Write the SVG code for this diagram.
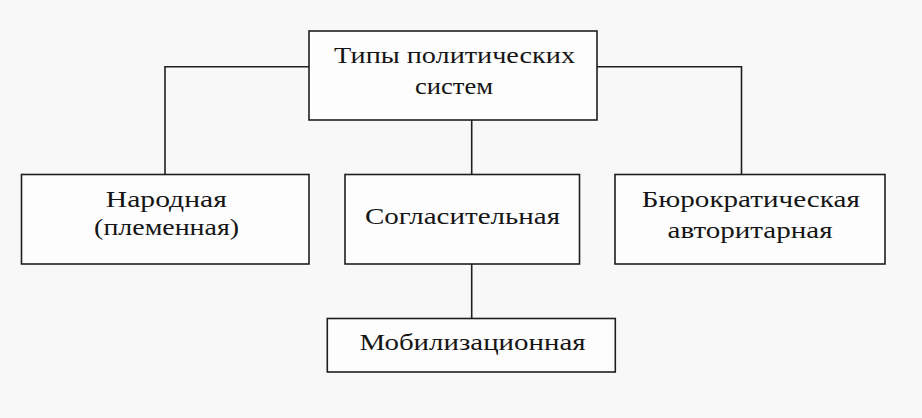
<svg xmlns="http://www.w3.org/2000/svg" width="922" height="418" viewBox="0 0 922 418">
<style>
.box{fill:#fdfdfd;stroke:#1e1e1e;stroke-width:1.6}
.conn{fill:none;stroke:#1e1e1e;stroke-width:1.6}
text{font-family:"Liberation Serif","Times New Roman",serif;font-size:24px;fill:#151515;text-anchor:middle}
</style>
<rect width="922" height="418" fill="#f8f8f8"/>
<g id="connectors">
<polyline class="conn" points="309,66.7 165,66.7 165,174.5"/>
<polyline class="conn" points="597,66.7 741.5,66.7 741.5,174.5"/>
<line class="conn" x1="471.7" y1="120" x2="471.7" y2="174.5"/>
<line class="conn" x1="471.7" y1="264" x2="471.7" y2="318.5"/>
</g>
<g id="node-types">
<rect class="box" x="309" y="31" width="288" height="89"/>
<text x="454.5" y="62.7" textLength="241" lengthAdjust="spacingAndGlyphs">Типы политических</text>
<text x="454" y="94" textLength="78" lengthAdjust="spacingAndGlyphs">систем</text>
</g>
<g id="node-popular">
<rect class="box" x="21.5" y="174.5" width="287.5" height="89.5"/>
<text x="166.3" y="206.7" textLength="121" lengthAdjust="spacingAndGlyphs">Народная</text>
<text x="166.6" y="235" textLength="145" lengthAdjust="spacingAndGlyphs">(племенная)</text>
</g>
<g id="node-consent">
<rect class="box" x="345" y="174.5" width="234.5" height="89.5"/>
<text x="462.5" y="224.3" textLength="195" lengthAdjust="spacingAndGlyphs">Согласительная</text>
</g>
<g id="node-bureau">
<rect class="box" x="615" y="174.5" width="270" height="89.5"/>
<text x="750.8" y="206.7" textLength="218" lengthAdjust="spacingAndGlyphs">Бюрократическая</text>
<text x="750" y="238.3" textLength="165" lengthAdjust="spacingAndGlyphs">авторитарная</text>
</g>
<g id="node-mobil">
<rect class="box" x="327.3" y="318.5" width="288" height="53.5"/>
<text x="472.5" y="350" textLength="226" lengthAdjust="spacingAndGlyphs">Мобилизационная</text>
</g>
</svg>
